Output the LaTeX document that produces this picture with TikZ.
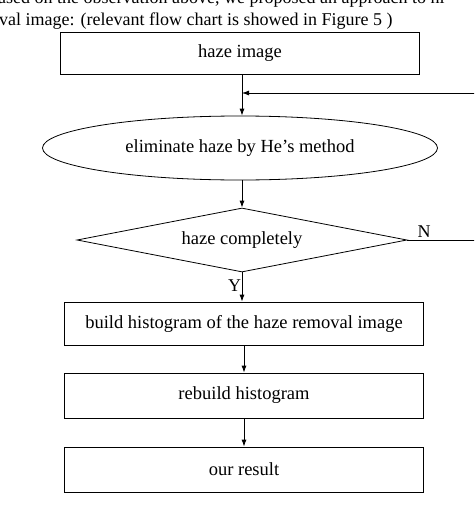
\documentclass[tikz,border=0pt]{standalone}
\usepackage{fontspec}
\setmainfont{Liberation Serif}
\usetikzlibrary{shapes.geometric,arrows.meta}
\begin{document}
\begin{tikzpicture}[x=1pt,y=-1pt,
  every node/.style={font=\fontsize{18.5}{20}\selectfont},
  proc/.style={draw,rectangle,line width=0.8pt,minimum width=359pt,inner sep=0pt},
  flow/.style={line width=0.8pt,-{Latex[length=7pt,width=5pt]}},
  plain/.style={line width=0.8pt},
  lbl/.style={inner sep=0pt,font=\fontsize{18}{20}\selectfont}]
\useasboundingbox (0,0) rectangle (474,514);
\clip (0,0) rectangle (474,514);
\fill[white] (0,0) rectangle (474,514);
% running text above the chart (cut off by the picture edge)
\node[lbl,anchor=base west] (txtA) at (-2,4) {ased on the observation above, we proposed an approach to hi};
\node[lbl,anchor=base west] (txtB) at (-1,25) {val image: (relevant flow chart is showed in Figure 5 )};
% nodes
\node[proc,minimum height=42pt] (box1) at (240,53) {haze image};
\node[draw,ellipse,line width=0.8pt,minimum width=395pt,minimum height=64pt,inner sep=0pt] (ell) at (240,148) {eliminate haze by He’s method};
\node[draw,diamond,aspect=5.15,line width=0.8pt,minimum width=330pt,minimum height=64pt,inner sep=0pt] (dia) at (242,240) {haze completely};
\node[proc,minimum height=43pt] (box2) at (244,323.5) {build histogram of the haze removal image};
\node[proc,minimum height=45pt] (box3) at (244,395.5) {rebuild histogram};
\node[proc,minimum height=45pt] (box4) at (244,469.5) {our result};
% labels
\node[lbl] (labN) at (424,232) {N};
\node[lbl] (labY) at (234.5,286) {Y};
% helper coordinates
\coordinate (top1) at (242,74);
\coordinate (merge) at (242,93);
\coordinate (fbR) at (476,93);
\coordinate (fbN) at (476,240);
% connectors
\draw[flow] (top1) -- (top1 |- ell.north);
\draw[flow] (fbR) -- (merge);
\draw[flow] (ell.south -| dia.north) -- (dia.north);
\draw[plain] (dia.east) -- (fbN);
\draw[flow] (dia.south) -- (dia.south |- box2.north);
\draw[flow] (box2.south) -- (box3.north);
\draw[flow] (box3.south) -- (box4.north);
\end{tikzpicture}
\end{document}
